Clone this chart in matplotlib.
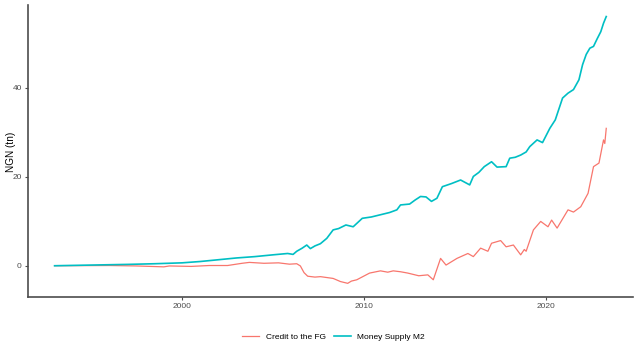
import matplotlib
matplotlib.use("Agg")
import matplotlib.pyplot as plt

RED = "#F8766D"
TEAL = "#00BFC4"
AXIS = "#4D4D4D"

# decimal years / NGN trillions
m2_year = [1993.0, 1995.0, 1997.0, 1998.5, 2000.0, 2001.0, 2002.0, 2003.0, 2004.0,
           2005.0, 2005.8, 2006.1, 2006.3, 2006.6, 2006.85, 2007.05, 2007.3, 2007.6,
           2007.95, 2008.3, 2008.6, 2009.0, 2009.4, 2009.9, 2010.4, 2010.9, 2011.4,
           2011.8, 2012.0, 2012.5, 2012.8, 2013.1, 2013.4, 2013.7, 2014.0, 2014.3,
           2014.8, 2015.3, 2015.8, 2016.0, 2016.3, 2016.6, 2017.0, 2017.3, 2017.8,
           2018.0, 2018.3, 2018.6, 2018.9, 2019.1, 2019.5, 2019.8, 2020.2, 2020.5,
           2020.9, 2021.2, 2021.5, 2021.8, 2022.0, 2022.2, 2022.4, 2022.6, 2022.8,
           2023.0, 2023.15, 2023.3]
m2_val = [0.05, 0.2, 0.35, 0.5, 0.7, 1.0, 1.4, 1.8, 2.1,
          2.5, 2.8, 2.6, 3.3, 4.0, 4.7, 3.9, 4.5, 5.0,
          6.2, 8.1, 8.4, 9.2, 8.8, 10.7, 11.0, 11.5, 12.0,
          12.6, 13.7, 13.9, 14.8, 15.6, 15.5, 14.5, 15.2, 17.8,
          18.5, 19.3, 18.2, 20.1, 21.0, 22.3, 23.4, 22.2, 22.3,
          24.2, 24.4, 24.9, 25.6, 26.8, 28.3, 27.7, 30.9, 32.8,
          37.7, 38.8, 39.6, 41.8, 45.2, 47.5, 48.9, 49.3, 51.0,
          52.6, 54.5, 56.0]

fg_year = [1993.0, 1996.0, 1997.5, 1999.0, 1999.3, 2000.5, 2001.5, 2002.5, 2003.3,
           2003.7, 2004.5, 2005.3, 2005.9, 2006.3, 2006.5, 2006.7, 2006.9, 2007.3,
           2007.6, 2008.3, 2008.7, 2009.1, 2009.3, 2009.6, 2010.3, 2010.9, 2011.3,
           2011.6, 2012.0, 2012.4, 2013.0, 2013.5, 2013.8, 2014.2, 2014.5, 2015.1,
           2015.7, 2016.0, 2016.4, 2016.8, 2017.0, 2017.5, 2017.8, 2018.2, 2018.6,
           2018.8, 2018.9, 2019.3, 2019.7, 2020.1, 2020.3, 2020.6, 2021.2, 2021.5,
           2021.9, 2022.3, 2022.6, 2022.9, 2023.15, 2023.22, 2023.3]
fg_val = [0.05, 0.1, 0.0, -0.2, 0.0, -0.1, 0.1, 0.1, 0.6,
          0.8, 0.6, 0.7, 0.4, 0.5, 0.0, -1.5, -2.3, -2.5,
          -2.4, -2.8, -3.5, -3.9, -3.4, -3.1, -1.6, -1.1, -1.4,
          -1.1, -1.3, -1.6, -2.2, -2.0, -3.1, 1.7, 0.2, 1.7,
          2.8, 2.1, 4.0, 3.3, 5.1, 5.7, 4.3, 4.7, 2.5,
          3.7, 3.3, 8.1, 10.0, 8.8, 10.3, 8.5, 12.6, 12.1,
          13.3, 16.3, 22.3, 23.1, 28.3, 27.5, 30.9]

plt.rcParams.update({"font.family": "Liberation Sans"})
fig = plt.figure(figsize=(6.38, 3.55), dpi=100)
ax = fig.add_axes([0.0439, 0.163, 0.948, 0.823])

ax.plot(fg_year, fg_val, color=RED, lw=0.9, label="Credit to the FG")
ax.plot(m2_year, m2_val, color=TEAL, lw=1.2, label="Money Supply M2")

ax.set_xlim(1991.54, 2024.76)
ax.set_ylim(-7.0, 58.6)
ax.set_xticks([2000, 2010, 2020])
ax.set_yticks([0, 20, 40])
ax.tick_params(colors=AXIS, labelsize=6, length=2.5, width=0.8, pad=2)
for s in ("top", "right"):
    ax.spines[s].set_visible(False)
for s in ("left", "bottom"):
    ax.spines[s].set_color(AXIS)
    ax.spines[s].set_linewidth(1.2)
fig.text(0.017, 0.572, "NGN (tn)", rotation=90, ha="center", va="center",
         fontsize=7.2, color="black")

fig.legend(loc="center", bbox_to_anchor=(0.523, 0.05), ncol=2, frameon=False,
           fontsize=6, handlelength=2.0, columnspacing=1.0, handletextpad=0.8)

fig.savefig("out.png", dpi=100)
